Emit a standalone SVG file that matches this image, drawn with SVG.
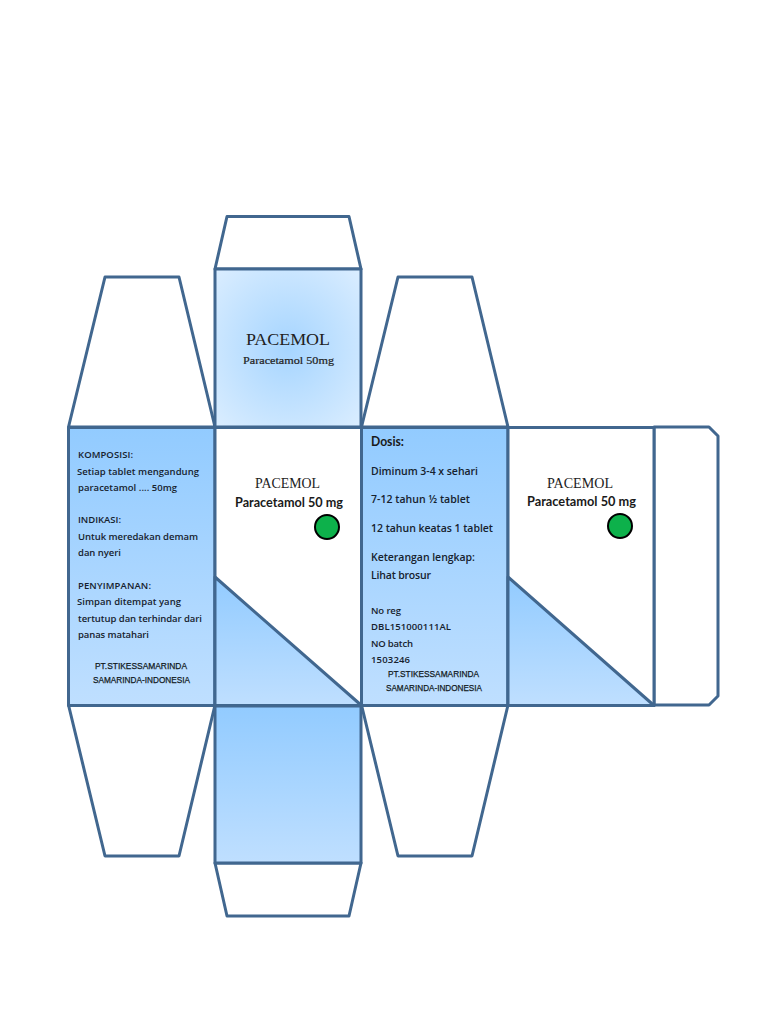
<svg xmlns="http://www.w3.org/2000/svg" width="768" height="1024" viewBox="0 0 768 1024">
<style>
.s{stroke:#41678f;stroke-width:3;stroke-linejoin:round;fill:#fff}
.b{fill:url(#v)}
.t{font-family:"Open Sans","Noto Sans",sans-serif;font-size:9.5px;fill:#16222e;font-weight:600}
.d{font-size:10.5px}
.a{font-family:"Liberation Sans",Arial,sans-serif;font-size:9.5px;fill:#101820;stroke:#101820;stroke-width:0.25}
.p{font-family:"Liberation Serif","Times New Roman",serif;font-size:14.5px;fill:#222}
.m{font-family:"Lato","Noto Sans",sans-serif;font-size:13px;font-weight:700;fill:#1a1a1a}
.c{fill:#0db14b;stroke:#000;stroke-width:2}
</style>
<defs>
<linearGradient id="v" x1="0" y1="0" x2="0" y2="1"><stop offset="0" stop-color="#92cbff"/><stop offset="1" stop-color="#bfdfff"/></linearGradient>
<radialGradient id="r" cx="0.5" cy="0.5" r="0.72"><stop offset="0" stop-color="#a6d5ff"/><stop offset="1" stop-color="#dceeff"/></radialGradient>
</defs>
<rect width="768" height="1024" fill="#fff"/>
<g id="flaps">
<path class="s" d="M215 269L227 216.500H349L361 269Z"/>
<path class="s" d="M68.500 427L105 277H179L215 427Z"/>
<path class="s" d="M361.500 427L398 277H472L508 427Z"/>
<path class="s" d="M68.500 705L105 856H179L215 705Z"/>
<path class="s" d="M361.500 705L398 856H472L508 705Z"/>
<path class="s" d="M215 863L227 916H349L361 863Z"/>
<path class="s" d="M654 427H709L718 436V696L709 705H654Z"/>
</g>
<g id="panel-top">
<rect class="s" x="215" y="269" width="146" height="158" style="fill:url(#r)"/>
<text class="p" x="246" y="345" style="font-size:17px" textLength="84" lengthAdjust="spacingAndGlyphs">PACEMOL</text>
<text class="p" x="243" y="364" style="font-size:11px;stroke:#222;stroke-width:0.2" textLength="91" lengthAdjust="spacingAndGlyphs">Paracetamol 50mg</text>
</g>
<g id="panel-bottom"><rect class="s b" x="215" y="706" width="146" height="157"/></g>
<g id="panel-komposisi">
<rect class="s b" x="68.500" y="427.500" width="146.500" height="278"/>
<text class="t" x="78" y="458" textLength="55">KOMPOSISI:</text>
<text class="t" x="77" y="475" textLength="122">Setiap tablet mengandung</text>
<text class="t" x="78" y="491" textLength="99">paracetamol .... 50mg</text>
<text class="t" x="78" y="523" textLength="43">INDIKASI:</text>
<text class="t" x="78" y="540" textLength="120">Untuk meredakan demam</text>
<text class="t" x="78" y="556" textLength="43">dan nyeri</text>
<text class="t" x="78" y="589" textLength="73">PENYIMPANAN:</text>
<text class="t" x="77" y="605" textLength="104">Simpan ditempat yang</text>
<text class="t" x="78" y="622" textLength="124">tertutup dan terhindar dari</text>
<text class="t" x="78" y="638" textLength="71">panas matahari</text>
<text class="a" x="95" y="669" textLength="92" lengthAdjust="spacingAndGlyphs">PT.STIKESSAMARINDA</text>
<text class="a" x="93" y="683" textLength="97" lengthAdjust="spacingAndGlyphs">SAMARINDA-INDONESIA</text>
</g>
<g id="panel-front">
<rect class="s" x="215" y="427.500" width="146.500" height="278"/>
<path class="s b" d="M215 577L361.500 705.500H215Z"/>
<text class="p" x="255" y="488" textLength="65" lengthAdjust="spacingAndGlyphs">PACEMOL</text>
<text class="m" x="235" y="507" textLength="108" lengthAdjust="spacingAndGlyphs">Paracetamol 50 mg</text>
<circle class="c" cx="327" cy="527" r="12"/>
</g>
<g id="panel-dosis">
<rect class="s b" x="361.500" y="427.500" width="146.500" height="278"/>
<text class="m" x="371" y="446" textLength="33" lengthAdjust="spacingAndGlyphs">Dosis:</text>
<text class="t d" x="371" y="475" textLength="107">Diminum 3-4 x sehari</text>
<text class="t d" x="371" y="503" textLength="99">7-12 tahun ½ tablet</text>
<text class="t d" x="371" y="532" textLength="122">12 tahun keatas 1 tablet</text>
<text class="t d" x="371" y="561" textLength="104">Keterangan lengkap:</text>
<text class="t d" x="371" y="579" textLength="60">Lihat brosur</text>
<text class="t" x="371" y="614" textLength="30">No reg</text>
<text class="t" x="371" y="630" textLength="80">DBL151000111AL</text>
<text class="t" x="371" y="647" textLength="42">NO batch</text>
<text class="t" x="371" y="663" textLength="39">1503246</text>
<text class="a" x="388" y="677" textLength="91" lengthAdjust="spacingAndGlyphs">PT.STIKESSAMARINDA</text>
<text class="a" x="386" y="691" textLength="96" lengthAdjust="spacingAndGlyphs">SAMARINDA-INDONESIA</text>
</g>
<g id="panel-back">
<rect class="s" x="508" y="427.500" width="146" height="278"/>
<path class="s b" d="M508 577L654 705.500H508Z"/>
<text class="p" x="547" y="488" textLength="66" lengthAdjust="spacingAndGlyphs">PACEMOL</text>
<text class="m" x="527" y="506" textLength="109" lengthAdjust="spacingAndGlyphs">Paracetamol 50 mg</text>
<circle class="c" cx="620" cy="526" r="12"/>
</g>
</svg>
